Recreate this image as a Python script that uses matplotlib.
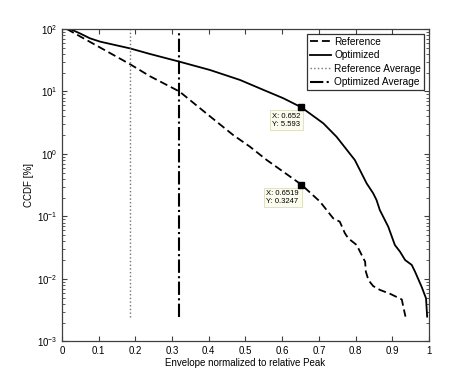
#!/usr/bin/env python3

import numpy as np
import matplotlib.pyplot as plt
from matplotlib.ticker import LogLocator, NullFormatter

# CCDF curves (x normalized envelope, y in %)
ref_x = [0.013, 0.10, 0.187, 0.24, 0.32, 0.376, 0.421, 0.467, 0.512, 0.558, 0.603,
         0.6519, 0.703, 0.739, 0.757, 0.771, 0.780, 0.803, 0.812, 0.826, 0.828, 0.835,
         0.848, 0.866, 0.894, 0.926, 0.930, 0.936]
ref_y = [100, 52, 27, 17.5, 10, 5.4, 3.3, 2.0, 1.31, 0.80, 0.52,
         0.3247, 0.173, 0.0935, 0.0826, 0.0538, 0.0448, 0.035, 0.0274, 0.0189, 0.0131, 0.0096,
         0.0077, 0.0067, 0.0058, 0.0047, 0.0036, 0.0025]

opt_x = [0.0, 0.022, 0.049, 0.076, 0.104, 0.185, 0.24, 0.32, 0.403, 0.485, 0.549,
         0.603, 0.652, 0.712, 0.748, 0.798, 0.830, 0.848, 0.857, 0.866, 0.889, 0.907,
         0.921, 0.935, 0.953, 0.962, 0.980, 0.992, 0.995]
opt_y = [100, 100, 85, 71, 62.7, 49, 39.8, 30, 22.1, 15.3, 10.6,
         7.8, 5.593, 3.1, 1.89, 0.80, 0.34, 0.235, 0.184, 0.127, 0.0687, 0.035,
         0.0274, 0.0201, 0.0168, 0.0131, 0.0075, 0.0049, 0.0025]

ref_avg = 0.185
opt_avg = 0.319
avg_span = [0.0025, 100]

tips = [(0.652, 5.593), (0.6519, 0.3247)]

plt.rcParams["font.family"] = ["Liberation Sans", "DejaVu Sans"]
plt.rcParams["font.size"] = 7

fig = plt.figure(figsize=(4.74, 3.84), dpi=100)
ax = fig.add_axes([0.1308, 0.1107, 0.7742, 0.8138])

ax.plot(ref_x, ref_y, "k--", lw=1.3, dashes=(4.4, 2.2), label="Reference")
ax.plot(opt_x, opt_y, "k-", lw=1.3, label="Optimized")
ax.plot([ref_avg, ref_avg], avg_span, ls=":", color="0.45", lw=1.0, label="Reference Average")
ax.plot([opt_avg, opt_avg], avg_span, ls="-.", color="k", lw=1.5, label="Optimized Average")

ax.set_yscale("log")
ax.set_xlim(0, 1)
ax.set_ylim(1e-3, 1e2)
ax.set_xticks(np.arange(0, 1.01, 0.1))
ax.set_xticklabels(["0", "0.1", "0.2", "0.3", "0.4", "0.5", "0.6", "0.7", "0.8", "0.9", "1"])
ax.yaxis.set_minor_locator(LogLocator(base=10, subs=np.arange(2, 10), numticks=20))
ax.yaxis.set_minor_formatter(NullFormatter())
ax.tick_params(which="both", direction="in", top=True, right=True, colors="0.25",
               labelcolor="k", labelsize=7)
ax.tick_params(which="major", length=3.5)
ax.tick_params(which="minor", length=2)
for s in ax.spines.values():
    s.set_color("0.25")
    s.set_linewidth(0.9)

ax.set_xlabel("Envelope normalized to relative Peak", labelpad=1)
ax.set_ylabel("CCDF [%]", labelpad=2)

# data tips
for (tx, ty), (dx, dy) in zip(tips, [(-29, -13), (-35, -13)]):
    ax.plot(tx, ty, "s", color="k", ms=4, zorder=5)
    ax.annotate("X: %s\nY: %s" % (tx, ty), xy=(tx, ty), xytext=(dx, dy),
                textcoords="offset pixels", fontsize=5.5, va="center", ha="left",
                linespacing=1.1,
                bbox=dict(boxstyle="square,pad=0.35", fc="#fbfbee", ec="#dcdcc0", lw=0.6))

leg = ax.legend(loc="upper right", fontsize=7.3, frameon=True, fancybox=False,
                borderaxespad=0.45, handlelength=2.1, handletextpad=0.3,
                labelspacing=0.35, borderpad=0.3)
leg.get_frame().set_edgecolor("k")
leg.get_frame().set_linewidth(0.9)

plt.savefig("out.png", dpi=100)
